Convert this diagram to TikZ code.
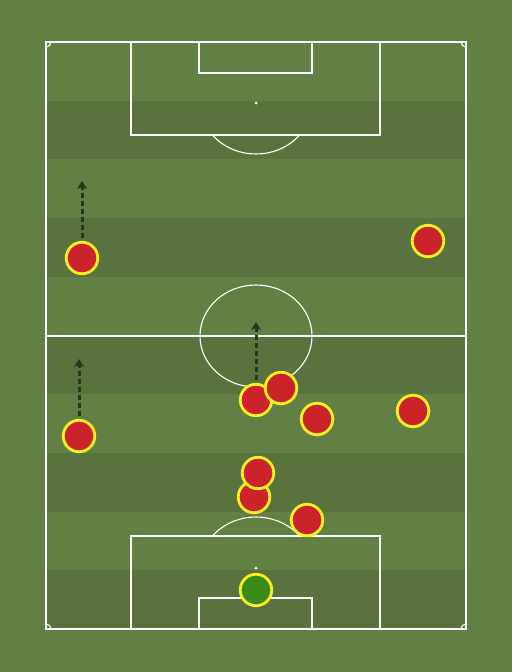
\documentclass[tikz,border=0pt]{standalone}
\usetikzlibrary{arrows.meta}
\definecolor{grassL}{RGB}{99,128,68}
\definecolor{grassD}{RGB}{90,115,62}
\definecolor{plred}{RGB}{204,34,41}
\definecolor{plyel}{RGB}{245,240,30}
\definecolor{gkgreen}{RGB}{58,140,22}
\definecolor{arrowc}{RGB}{38,55,30}
\tikzset{
  pline/.style={draw=white, line width=1.1pt},
  player/.style={circle, fill=plred, draw=plyel, line width=2.8pt, minimum size=31.5pt, inner sep=0pt},
  keeper/.style={player, fill=gkgreen},
  run/.style={draw=arrowc, line width=3pt, dash pattern=on 4.5pt off 3.5pt, -{Stealth[length=8pt,width=10pt,inset=2pt]}, shorten <=3pt},
}
\begin{document}
\begin{tikzpicture}[x=1pt,y=-1pt]
\useasboundingbox (0,0) rectangle (512,672);
\fill[grassL] (0,0) rectangle (512,672);
% stripes
\foreach \i in {1,3,5,7,9} {
  \fill[grassD] (46,{42+\i*58.7}) rectangle (466,{42+(\i+1)*58.7});
}
% outer lines
\draw[pline] (46,42) rectangle (466,629);
\draw[pline] (46,336) -- (466,336);
\draw[pline] (256,336) ellipse [x radius=56, y radius=51];
% top area
\draw[pline] (131,42) rectangle (380,135);
\draw[pline] (199,42) rectangle (312,73);
\fill[white] (256,103) circle (1.5pt);
\begin{scope}
  \clip (100,135) rectangle (420,200);
  \draw[pline] (256,103) ellipse [x radius=56, y radius=51];
\end{scope}
% bottom area
\draw[pline] (131,536) rectangle (380,629);
\draw[pline] (199,598) rectangle (312,629);
\fill[white] (256,568) circle (1.5pt);
\begin{scope}
  \clip (100,470) rectangle (420,536);
  \draw[pline] (256,568) ellipse [x radius=56, y radius=51];
\end{scope}
% corner arcs
\draw[pline] (51,42) arc[start angle=0, end angle=90, radius=5];
\draw[pline] (461,42) arc[start angle=180, end angle=90, radius=5];
\draw[pline] (51,629) arc[start angle=0, end angle=-90, radius=5];
\draw[pline] (461,629) arc[start angle=180, end angle=270, radius=5];
% players
\node[player] (p1) at (82,258) {};
\node[player] (p2) at (428,241) {};
\node[player] (p3) at (79,436) {};
\node[player] (p4) at (256,400) {};
\node[player] (p5) at (281,388) {};
\node[player] (p6) at (317,419) {};
\node[player] (p7) at (413,411) {};
\node[player] (p9) at (254,497) {};
\node[player] (p8) at (258,473) {};
\node[player] (p10) at (307,520) {};
\node[keeper] (gk) at (256,590) {};
% runs
\coordinate (r1) at (82,181);
\coordinate (r3) at (79,359);
\coordinate (r4) at (256,322);
\draw[run] (p1.north) -- (r1);
\draw[run] (p3.north) -- (r3);
\draw[run] (p4.north) -- (r4);
\end{tikzpicture}
\end{document}
